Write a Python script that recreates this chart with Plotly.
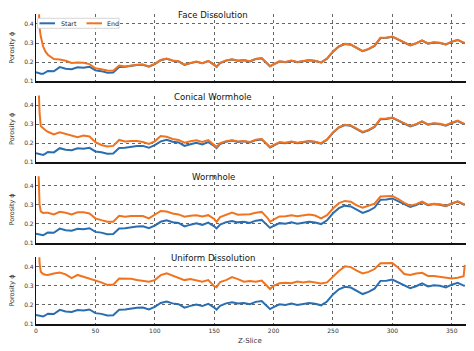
import plotly.graph_objects as go

# ---------------- data ----------------
X = [0, 1, 2, 3, 4, 6, 8, 10, 15, 20,
     25, 30, 35, 40, 45, 50, 55, 60, 65, 70,
     75, 80, 85, 90, 95, 100, 105, 110, 115, 120,
     125, 130, 135, 140, 145, 150, 152, 155, 160, 165,
     170, 175, 180, 185, 190, 195, 197, 200, 205, 210,
     215, 220, 225, 230, 235, 240, 245, 250, 255, 260,
     265, 270, 275, 280, 285, 290, 295, 300, 305, 310,
     315, 320, 325, 330, 335, 340, 345, 350, 355, 360,
     361]

START = [0.147, 0.145, 0.143, 0.141, 0.140, 0.139, 0.146, 0.154, 0.152, 0.174,
         0.166, 0.163, 0.173, 0.171, 0.176, 0.157, 0.153, 0.145, 0.146, 0.175,
         0.176, 0.181, 0.185, 0.186, 0.176, 0.190, 0.210, 0.218, 0.208, 0.204,
         0.186, 0.195, 0.202, 0.194, 0.206, 0.186, 0.175, 0.195, 0.208, 0.214,
         0.207, 0.210, 0.204, 0.216, 0.220, 0.190, 0.178, 0.188, 0.203, 0.200,
         0.207, 0.200, 0.204, 0.210, 0.206, 0.198, 0.218, 0.255, 0.282, 0.295,
         0.291, 0.272, 0.257, 0.268, 0.285, 0.326, 0.327, 0.333, 0.318, 0.300,
         0.288, 0.298, 0.313, 0.297, 0.303, 0.300, 0.292, 0.306, 0.316, 0.301,
         0.300]

END_FACE = [0.900, 0.700, 0.480, 0.380, 0.335, 0.282, 0.255, 0.239, 0.216, 0.214,
            0.207, 0.196, 0.198, 0.197, 0.190, 0.168, 0.163, 0.157, 0.155, 0.182,
            0.178, 0.183, 0.187, 0.188, 0.178, 0.191, 0.211, 0.219, 0.209, 0.205,
            0.187, 0.196, 0.203, 0.195, 0.207, 0.187, 0.176, 0.196, 0.209, 0.215,
            0.208, 0.211, 0.205, 0.217, 0.221, 0.191, 0.179, 0.189, 0.204, 0.201,
            0.208, 0.201, 0.205, 0.211, 0.207, 0.199, 0.219, 0.256, 0.283, 0.296,
            0.292, 0.273, 0.258, 0.269, 0.286, 0.327, 0.328, 0.334, 0.319, 0.301,
            0.289, 0.299, 0.314, 0.298, 0.304, 0.301, 0.293, 0.307, 0.317, 0.302,
            0.301]

END_CONICAL = [0.900, 0.700, 0.500, 0.360, 0.290, 0.278, 0.268, 0.260, 0.246, 0.257,
               0.248, 0.243, 0.231, 0.240, 0.235, 0.205, 0.191, 0.183, 0.186, 0.217,
               0.209, 0.212, 0.212, 0.206, 0.196, 0.210, 0.238, 0.234, 0.222, 0.217,
               0.203, 0.210, 0.215, 0.207, 0.216, 0.190, 0.180, 0.200, 0.211, 0.216,
               0.209, 0.212, 0.206, 0.218, 0.222, 0.192, 0.180, 0.190, 0.205, 0.202,
               0.209, 0.202, 0.206, 0.212, 0.208, 0.200, 0.220, 0.257, 0.284, 0.297,
               0.293, 0.274, 0.259, 0.270, 0.287, 0.328, 0.329, 0.335, 0.320, 0.302,
               0.290, 0.300, 0.315, 0.299, 0.305, 0.302, 0.294, 0.308, 0.318, 0.303,
               0.302]

END_WORMHOLE = [0.900, 0.700, 0.450, 0.300, 0.265, 0.256, 0.257, 0.258, 0.249, 0.263,
                0.258, 0.249, 0.260, 0.260, 0.254, 0.228, 0.219, 0.210, 0.210, 0.242,
                0.237, 0.241, 0.240, 0.240, 0.228, 0.246, 0.267, 0.264, 0.254, 0.249,
                0.237, 0.242, 0.245, 0.238, 0.245, 0.225, 0.210, 0.235, 0.247, 0.258,
                0.247, 0.248, 0.250, 0.258, 0.262, 0.230, 0.210, 0.222, 0.238, 0.239,
                0.244, 0.239, 0.243, 0.248, 0.243, 0.228, 0.245, 0.280, 0.308, 0.320,
                0.316, 0.296, 0.284, 0.294, 0.305, 0.343, 0.345, 0.346, 0.330, 0.310,
                0.295, 0.303, 0.316, 0.300, 0.305, 0.302, 0.294, 0.308, 0.318, 0.303,
                0.302]

END_UNIFORM = [1.000, 0.800, 0.550, 0.420, 0.374, 0.362, 0.358, 0.357, 0.365, 0.370,
               0.360, 0.340, 0.357, 0.348, 0.340, 0.327, 0.318, 0.305, 0.306, 0.338,
               0.336, 0.337, 0.330, 0.325, 0.321, 0.330, 0.356, 0.366, 0.353, 0.340,
               0.330, 0.336, 0.330, 0.322, 0.330, 0.298, 0.293, 0.320, 0.330, 0.346,
               0.335, 0.322, 0.325, 0.322, 0.328, 0.297, 0.283, 0.300, 0.313, 0.316,
               0.314, 0.322, 0.318, 0.322, 0.318, 0.312, 0.318, 0.350, 0.378, 0.402,
               0.398, 0.380, 0.365, 0.373, 0.388, 0.418, 0.418, 0.419, 0.395, 0.362,
               0.357, 0.365, 0.368, 0.352, 0.352, 0.348, 0.340, 0.338, 0.342, 0.350,
               0.410]

TITLES = ["Face Dissolution", "Conical Wormhole", "Wormhole", "Uniform Dissolution"]
ENDS = [END_FACE, END_CONICAL, END_WORMHOLE, END_UNIFORM]
X_TICKS = [0, 50, 100, 150, 200, 250, 300, 350]
Y_TICKS = [0.1, 0.2, 0.3, 0.4]
Y_TICK_LABELS = ["0.1", "0.2", "0.3", "0.4"]
SERIES_NAMES = ["Start", "End"]

# ---------------- styling / layout ----------------
W, H = 474, 351
BLUE = "#2a6db0"
ORANGE = "#f07320"
FONT = "DejaVu Sans"
GRID = "#666666"

def fx(p):
    return p / W

def fy(p):
    return 1 - p / H

# panel pixel extents (top, bottom)
PANELS = [(14.3, 81.3), (95.5, 162.3), (176.2, 242.7), (257.2, 324.0)]
X_LEFT, X_RIGHT = 36.0, 466.0

fig = go.Figure()
annotations = []
shapes = []

for i, (title, end) in enumerate(zip(TITLES, ENDS)):
    n = i + 1
    xa = "x" if n == 1 else f"x{n}"
    ya = "y" if n == 1 else f"y{n}"
    fig.add_trace(go.Scatter(x=X, y=START, xaxis=xa, yaxis=ya, mode="lines",
                             name=SERIES_NAMES[0], showlegend=False,
                             line=dict(color=BLUE, width=2)))
    fig.add_trace(go.Scatter(x=X, y=end, xaxis=xa, yaxis=ya, mode="lines",
                             name=SERIES_NAMES[1], showlegend=False,
                             line=dict(color=ORANGE, width=2)))
    top, bot = PANELS[i]
    xkey = "xaxis" if n == 1 else f"xaxis{n}"
    ykey = "yaxis" if n == 1 else f"yaxis{n}"
    fig.layout[xkey] = dict(
        domain=[fx(X_LEFT), fx(X_RIGHT)], range=[0, 362], anchor=ya,
        tickmode="array", tickvals=X_TICKS, ticktext=[str(t) for t in X_TICKS],
        showticklabels=(n == 4), ticks="",
        showgrid=True, gridcolor=GRID, griddash="dot", gridwidth=0.8,
        showline=True, linecolor="#111111", linewidth=1.5, zeroline=False,
        tickfont=dict(family=FONT, size=6, color="#333333"), automargin=False)
    fig.layout[ykey] = dict(
        domain=[fy(bot), fy(top)], range=[0.1, 0.45], anchor=xa,
        tickmode="array", tickvals=Y_TICKS, ticktext=Y_TICK_LABELS, ticks="",
        showgrid=True, gridcolor=GRID, griddash="dot", gridwidth=0.8,
        showline=True, linecolor="#111111", linewidth=1.2, zeroline=False,
        tickfont=dict(family=FONT, size=6, color="#333333"), automargin=False)
    # panel title
    annotations.append(dict(text=title, xref="paper", yref="paper",
                            x=fx(213), y=fy(top + 1.0), xanchor="center", yanchor="middle",
                            showarrow=False, font=dict(family=FONT, size=8.6, color="#111111")))
    # y-axis title
    annotations.append(dict(text="Porosity ϕ", xref="paper", yref="paper",
                            x=fx(12), y=fy((top + bot) / 2), xanchor="center", yanchor="middle",
                            textangle=-90, showarrow=False,
                            font=dict(family=FONT, size=6.5, color="#333333")))

# x-axis title
annotations.append(dict(text="Z-Slice", xref="paper", yref="paper",
                        x=fx(250), y=fy(340.7), xanchor="center", yanchor="middle",
                        showarrow=False, font=dict(family=FONT, size=7, color="#333333")))

# legend (panel 1, upper left)
LEG_Y = 23.3
shapes.append(dict(type="rect", xref="paper", yref="paper", layer="above",
                   x0=fx(37.5), x1=fx(119), y0=fy(28.3), y1=fy(18.3),
                   fillcolor="white", line=dict(color="#cccccc", width=0.8)))
shapes.append(dict(type="line", xref="paper", yref="paper", layer="above",
                   x0=fx(39.5), x1=fx(55), y0=fy(LEG_Y), y1=fy(LEG_Y),
                   line=dict(color=BLUE, width=2)))
shapes.append(dict(type="line", xref="paper", yref="paper", layer="above",
                   x0=fx(86.5), x1=fx(102), y0=fy(LEG_Y), y1=fy(LEG_Y),
                   line=dict(color=ORANGE, width=2)))
annotations.append(dict(text=SERIES_NAMES[0], xref="paper", yref="paper",
                        x=fx(58.5), y=fy(LEG_Y), xanchor="left", yanchor="middle",
                        showarrow=False, font=dict(family=FONT, size=6.3, color="#222222")))
annotations.append(dict(text=SERIES_NAMES[1], xref="paper", yref="paper",
                        x=fx(104.5), y=fy(LEG_Y), xanchor="left", yanchor="middle",
                        showarrow=False, font=dict(family=FONT, size=6.3, color="#222222")))

fig.update_layout(width=W, height=H, margin=dict(l=0, r=0, t=0, b=0),
                  paper_bgcolor="white", plot_bgcolor="white",
                  showlegend=False, annotations=annotations, shapes=shapes,
                  font=dict(family=FONT))

fig.write_html("out.html")
